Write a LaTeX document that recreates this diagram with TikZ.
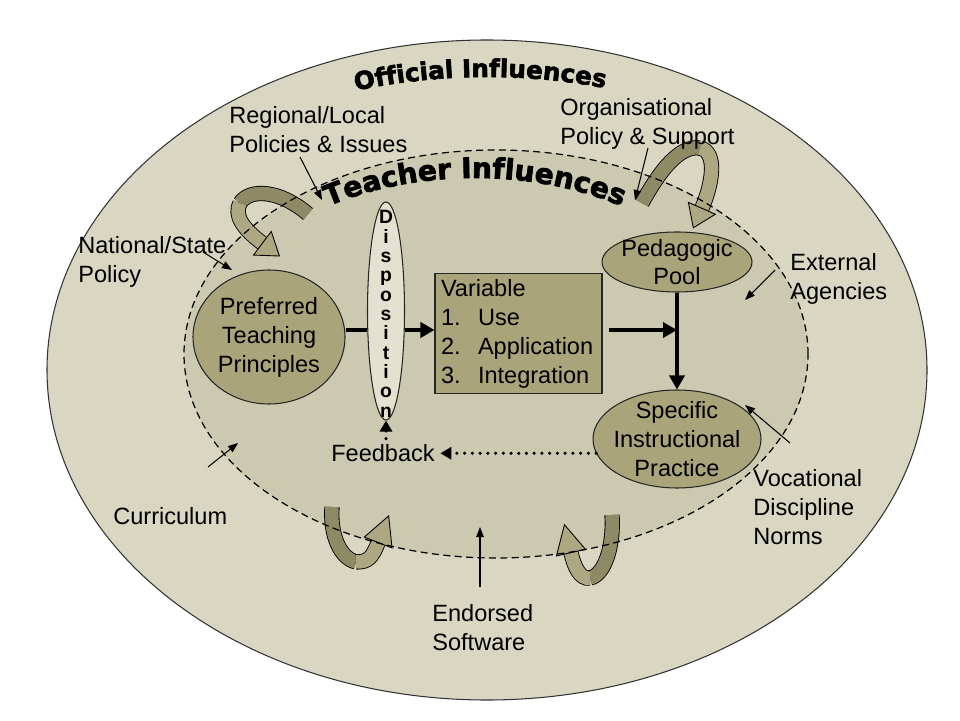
\documentclass[tikz,border=0pt]{standalone}
\usepackage{fontspec}
\setmainfont{Liberation Sans}
\newfontfamily\heavyfont{DejaVu Sans}[UprightFont={* Bold}, UprightFeatures={FakeBold=2.5}]
\usetikzlibrary{arrows.meta,shapes.geometric,decorations.text}

\definecolor{outerfill}{RGB}{217,215,193}
\definecolor{innerfill}{RGB}{204,201,177}
\definecolor{olivefill}{RGB}{169,164,122}
\definecolor{dispfill}{RGB}{227,226,208}
\definecolor{bandback}{RGB}{142,138,102}
\definecolor{bandfront}{RGB}{173,168,130}

\newcommand\officialfmt{\heavyfont\fontsize{14}{14}\selectfont}
\newcommand\teacherfmt{\heavyfont\fontsize{16}{16}\selectfont}
\newcommand\listnum[1]{\makebox[0.74cm][l]{#1}}

\tikzset{
  labeltext/.style={anchor=north west, align=left, inner sep=0pt, font=\fontsize{13.4}{16.5}\selectfont},
  olivenode/.style={ellipse, draw=black!85, line width=0.6pt, fill=olivefill, inner sep=0pt},
  nodetext/.style={align=center, inner sep=0pt, font=\fontsize{13.4}{16.5}\selectfont},
  thickline/.style={line width=2.6pt},
  thickarrow/.style={line width=2.6pt, -{Triangle[length=0.28cm,width=0.3cm]}},
  thinarrow/.style={line width=0.6pt, -{Triangle[length=0.2cm,width=0.15cm]}},
  dotline/.style={line width=2pt, line cap=round, dash pattern=on 0pt off 4.4pt, -{Triangle[length=0.22cm,width=0.24cm]}},
  backband/.style={double=bandback, double distance=0.27cm, line width=0.5pt},
  frontband/.style={double=bandfront, double distance=0.27cm, line width=0.5pt},
  bandhead/.style={line width=0.5pt, -{Triangle[length=#1, width=0.62cm, fill=bandfront]}},
}

\begin{document}
\begin{tikzpicture}
    \useasboundingbox (0,0) rectangle (19.2,14.4);
    \filldraw[fill=outerfill, draw=black!80, line width=0.6pt] (9.74,7.0) ellipse [x radius=8.8, y radius=6.6];
    \fill[innerfill] (9.92,7.32) ellipse [x radius=6.24, y radius=4.08];

    \path[decorate, decoration={text along path, text align=center, text={|\officialfmt|Official Influences}}]
        (4.564,11.7) arc[start angle=127, end angle=55, x radius=8.6, y radius=5.76];
    \path[decorate, decoration={text along path, text align=center, text={|\teacherfmt|Teacher Influences}}]
        (5.363,9.583) arc[start angle=140, end angle=40, x radius=5.4, y radius=3.52];

    % curved arrows
    \draw[backband] (6.16,10.12) .. controls (5.6,10.6) and (5.0,10.64) .. (4.8,10.34);
    \draw[frontband] (4.8,10.34) .. controls (4.68,10.1) and (4.84,9.84) .. (5.24,9.54);
    \draw[bandhead=0.45cm] (5.24,9.54) -- (5.6,9.27);
    \draw[backband] (12.84,10.34) .. controls (13.2,11.0) and (13.6,11.5) .. (14.0,11.44);
    \draw[frontband] (14.0,11.44) .. controls (14.36,11.36) and (14.24,10.7) .. (14.04,10.24);
    \draw[bandhead=0.45cm] (14.04,10.24) -- (13.86,9.83);
    \draw[backband] (6.64,4.26) .. controls (6.6,3.7) and (6.8,3.24) .. (7.12,3.16);
    \draw[frontband] (7.12,3.16) .. controls (7.36,3.16) and (7.44,3.24) .. (7.56,3.54);
    \draw[bandhead=0.6cm] (7.56,3.54) -- (7.78,4.1);
    \draw[backband] (12.24,4.1) .. controls (12.28,3.5) and (12.1,2.9) .. (11.8,2.84);
    \draw[frontband] (11.8,2.84) .. controls (11.6,2.8) and (11.48,3.08) .. (11.42,3.34);
    \draw[bandhead=0.6cm] (11.42,3.34) -- (11.285,3.924);

    \draw[line width=0.7pt, dash pattern=on 4pt off 2.5pt] (9.92,7.32) ellipse [x radius=6.24, y radius=4.08];

    \node[olivenode, minimum width=3.04cm, minimum height=2.68cm] (preferred) at (5.38,7.66) {};
    \node[nodetext] at (preferred) {Preferred\\Teaching\\Principles};
    \node[ellipse, draw=black!85, line width=0.6pt, fill=dispfill, minimum width=0.74cm, minimum height=4.36cm, inner sep=0pt] (disp) at (7.72,8.18) {};
    \node[align=center, inner sep=0pt, font=\bfseries\fontsize{11}{11}\selectfont] at ([yshift=-0.06cm]disp.center) {D\\i\\s\\p\\o\\s\\i\\t\\i\\o\\n};
    \node[draw=black!85, line width=0.6pt, fill=olivefill, text width=3.1cm, minimum height=2.26cm, inner xsep=0.12cm, align=left, font=\fontsize{13.4}{16.5}\selectfont] (variable) at (10.37,7.73)
        {Variable\\\listnum{1.}Use\\\listnum{2.}Application\\\listnum{3.}Integration};
    \node[olivenode, minimum width=3.0cm, minimum height=1.2cm] (pool) at (13.54,9.16) {};
    \node[nodetext, font=\fontsize{13.4}{16}\selectfont] at (pool) {Pedagogic\\Pool};
    \node[olivenode, minimum width=3.36cm, minimum height=1.96cm] (practice) at (13.54,5.62) {};
    \node[nodetext] at (practice) {Specific\\Instructional\\Practice};
    \node[inner sep=3pt, font=\fontsize{13.4}{16.5}\selectfont] (feedback) at (7.66,5.34) {Feedback};
    \coordinate (mid) at (13.54,7.8);

    \draw[thickline] (preferred.east |- mid) -- (disp.west |- mid);
    \draw[thickarrow] (disp.east |- mid) -- (variable.west |- mid);
    \draw[thickarrow, shorten <=0.12cm] (variable.east |- mid) -- (mid);
    \draw[thickarrow] (pool) -- (practice);
    \draw[dotline] (practice.190) -- (practice.190 -| feedback.east);
    \draw[dotline] (feedback.north -| disp.south) -- (disp.south);

    \node[labeltext] (regional) at (4.58,12.27) {Regional/Local\\Policies \& Issues};
    \node[labeltext] (organisational) at (11.2,12.43) {Organisational\\Policy \& Support};
    \node[labeltext] (national) at (1.56,9.67) {National/State\\Policy};
    \node[labeltext] (external) at (15.8,9.33) {External\\Agencies};
    \node[labeltext] (vocational) at (15.06,5.01) {Vocational\\Discipline\\Norms};
    \node[labeltext] (curriculum) at (2.26,4.25) {Curriculum};
    \node[labeltext] (endorsed) at (8.64,2.31) {Endorsed\\Software};

    \coordinate (regS) at (6.0,11.26);   \coordinate (regE) at (6.44,10.4);
    \coordinate (orgS) at (12.96,11.44); \coordinate (orgE) at (12.7,10.4);
    \coordinate (natS) at (4.06,9.36);   \coordinate (natE) at (4.64,9.0);
    \coordinate (curS) at (4.16,5.06);   \coordinate (curE) at (4.76,5.54);
    \coordinate (extS) at (15.5,9.0);    \coordinate (extE) at (14.9,8.4);
    \coordinate (vocS) at (15.8,5.54);   \coordinate (vocE) at (14.9,6.3);
    \coordinate (endS) at (9.6,2.66);    \coordinate (endE) at (9.6,3.86);
    \draw[thinarrow] (regS) -- (regE);
    \draw[thinarrow] (orgS) -- (orgE);
    \draw[thinarrow] (natS) -- (natE);
    \draw[thinarrow] (curS) -- (curE);
    \draw[thinarrow] (extS) -- (extE);
    \draw[thinarrow] (vocS) -- (vocE);
    \draw[thinarrow] (endS) -- (endE);
\end{tikzpicture}
\end{document}
